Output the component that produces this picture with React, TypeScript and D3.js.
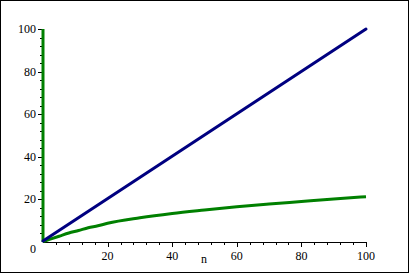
import React from "react";
import * as d3 from "d3";

const blueN = [0, 100];
const blueV = [0.5, 100];
const spikeN = [0, 0];
const spikeV = [0, 100];
const greenN = [0, 2, 5, 8, 11, 14, 17, 20, 30, 40, 50, 60, 70, 80, 90, 100];
const greenV = [0.2, 1.2, 2.7, 4.2, 5.4, 6.7, 7.6, 8.8, 11.4, 13.4, 15.0, 16.5, 17.8, 19.0, 20.2, 21.3];
const xTicks = [20, 40, 60, 80, 100];
const yTicks = [0, 20, 40, 60, 80, 100];
const xLabel = "n";

export default function App() {
  const W = 409, H = 273;
  const x = d3.scaleLinear().domain([0, 100]).range([43, 366]);
  const y = d3.scaleLinear().domain([0, 100]).range([242, 29]);
  const line = d3.line<[number, number]>().x(d => x(d[0])).y(d => y(d[1]));
  const smooth = d3.line<[number, number]>().x(d => x(d[0])).y(d => y(d[1])).curve(d3.curveMonotoneX);
  const blue = line(blueN.map((n, i) => [n, blueV[i]]) as [number, number][]);
  const spike = line(spikeN.map((n, i) => [n, spikeV[i]]) as [number, number][]);
  const green = smooth(greenN.map((n, i) => [n, greenV[i]]) as [number, number][]);
  const minor = d3.range(4, 101, 4).filter(v => v % 20 !== 0);
  const font = "'Liberation Serif', 'Times New Roman', serif";
  return (
    <svg width={W} height={H} style={{ position: "absolute", left: 0, top: 0, background: "#fff" }}>
      <rect x={0.5} y={0.5} width={W - 1} height={H - 1} fill="white" stroke="black" strokeWidth={1} />
      <line x1={x(0)} x2={x(100)} y1={y(0) + 0.5} y2={y(0) + 0.5} stroke="black" />
      <line x1={x(0) - 0.5} x2={x(0) - 0.5} y1={y(0)} y2={y(100)} stroke="black" />
      {xTicks.map(t => (
        <g key={"xt" + t}>
          <line x1={Math.round(x(t)) + 0.5} x2={Math.round(x(t)) + 0.5} y1={y(0)} y2={y(0) + 5} stroke="black" />
          <text x={x(t)} y={260} textAnchor="middle" fontFamily={font} fontSize={12}>{t}</text>
        </g>
      ))}
      {minor.map(t => (
        <line key={"xm" + t} x1={Math.round(x(t)) + 0.5} x2={Math.round(x(t)) + 0.5} y1={y(0)} y2={y(0) + 3} stroke="black" />
      ))}
      {yTicks.filter(t => t > 0).map(t => (
        <g key={"yt" + t}>
          <line x1={x(0) - 5} x2={x(0)} y1={Math.round(y(t)) + 0.5} y2={Math.round(y(t)) + 0.5} stroke="black" />
          <text x={36} y={y(t) + 4} textAnchor="end" fontFamily={font} fontSize={12}>{t}</text>
        </g>
      ))}
      <text x={36} y={253} textAnchor="end" fontFamily={font} fontSize={12}>0</text>
      {minor.map(t => (
        <line key={"ym" + t} x1={x(0) - 3} x2={x(0)} y1={Math.round(y(t)) + 0.5} y2={Math.round(y(t)) + 0.5} stroke="black" />
      ))}
      <text x={204} y={263} textAnchor="middle" fontFamily={font} fontSize={12}>{xLabel}</text>
      <path d={spike ?? ""} fill="none" stroke="#008000" strokeWidth={3} />
      <path d={green ?? ""} fill="none" stroke="#008000" strokeWidth={3} strokeLinejoin="round" />
      <path d={blue ?? ""} fill="none" stroke="#000080" strokeWidth={3} strokeLinecap="round" />
    </svg>
  );
}
